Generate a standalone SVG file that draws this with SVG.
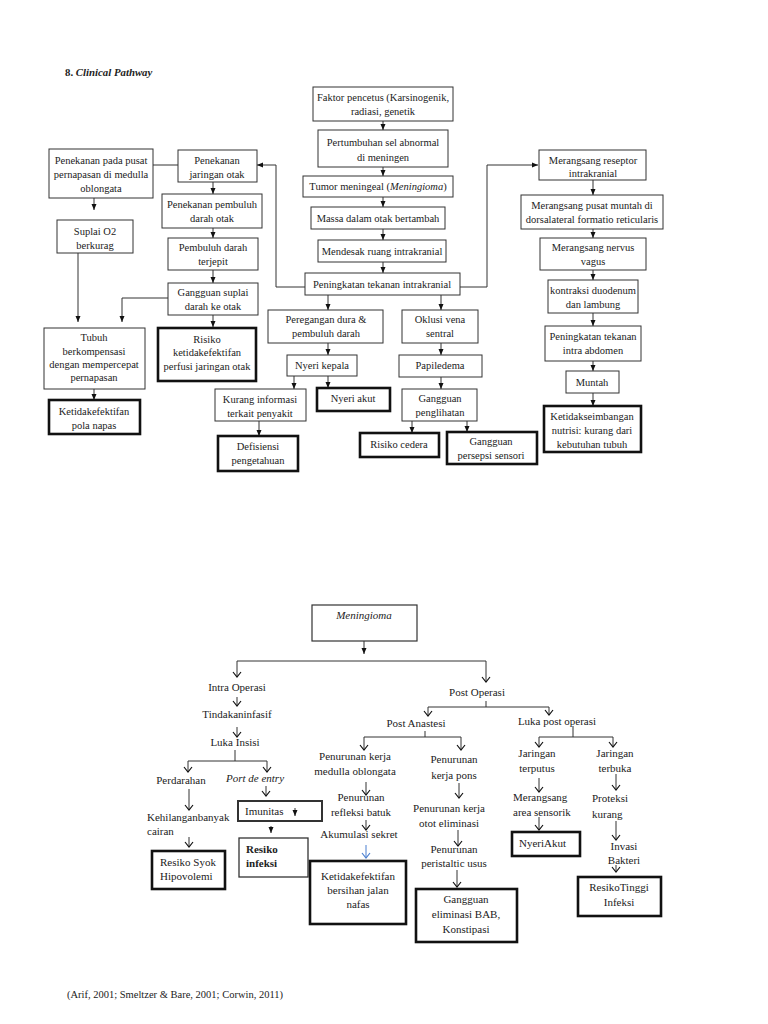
<svg xmlns="http://www.w3.org/2000/svg" width="768" height="1024" viewBox="0 0 768 1024">
<style>
text{font-family:"Liberation Serif","Times New Roman",serif;font-size:10.5px;fill:#222;text-anchor:middle}
.l{text-anchor:start}
.bot text{font-size:11px}
.b{fill:#fff;stroke:#333;stroke-width:1}
.t{fill:#fff;stroke:#111;stroke-width:2.6}
.c{fill:none;stroke:#333;stroke-width:1}
.f{marker-end:url(#fa)}
.o{marker-end:url(#oa)}
</style>
<defs>
<marker id="fa" markerUnits="userSpaceOnUse" markerWidth="6" markerHeight="6" viewBox="0 0 6 6" refX="6" refY="3" orient="auto"><path d="M0,0.5 L6,3 L0,5.5 z" fill="#111"/></marker>
<marker id="oa" markerUnits="userSpaceOnUse" markerWidth="10" markerHeight="10" viewBox="0 0 10 10" refX="9" refY="5" orient="auto"><path d="M4,1 L9,5 L4,9" fill="none" stroke="#111" stroke-width="1.2"/></marker>
<marker id="ob" markerUnits="userSpaceOnUse" markerWidth="10" markerHeight="10" viewBox="0 0 10 10" refX="9" refY="5" orient="auto"><path d="M4,1 L9,5 L4,9" fill="none" stroke="#4a7fd0" stroke-width="1.2"/></marker>
</defs>
<rect width="768" height="1024" fill="#fff"/>
<text x="65" y="76" class="l" style="font-weight:bold;font-size:10.8px">8. <tspan font-style="italic">Clinical Pathway</tspan></text>

<g id="connectors-top" class="c">
<path class="f" d="M383,121V130"/>
<path class="f" d="M383,167V176"/>
<path class="f" d="M383,197V207"/>
<path class="f" d="M383,229V240"/>
<path class="f" d="M383,262V273"/>
<path class="f" d="M305,287H276V165H257"/>
<path class="f" d="M460,287H487V165H538"/>
<path d="M153,165H178"/>
<path class="f" d="M94,198V210"/>
<path class="f" d="M78,253V322"/>
<path class="f" d="M213,182V194"/>
<path class="f" d="M213,228V238"/>
<path class="f" d="M213,270V283"/>
<path class="f" d="M168,298H122V322"/>
<path class="f" d="M213,315V327"/>
<path class="f" d="M94,389V400"/>
<path class="f" d="M328,295V310"/>
<path class="f" d="M441,295V310"/>
<path class="f" d="M328,343V355"/>
<path class="f" d="M441,343V355"/>
<path class="f" d="M294,376V389"/>
<path class="f" d="M328,376V388"/>
<path class="f" d="M441,377V389"/>
<path class="f" d="M259,421V436"/>
<path class="f" d="M412,421V433"/>
<path class="f" d="M467,421V432"/>
<path class="f" d="M593,180V195"/>
<path class="f" d="M593,229V238"/>
<path class="f" d="M593,270V280"/>
<path class="f" d="M593,313V326"/>
<path class="f" d="M593,361V371"/>
<path class="f" d="M593,393V406"/>
</g>

<g id="n-faktor"><rect class="b" x="313" y="87" width="140" height="34"/><text x="383" y="101">Faktor pencetus (Karsinogenik,</text><text x="383" y="115">radiasi, genetik</text></g>
<g id="n-pertumbuhan"><rect class="b" x="318" y="130" width="130" height="37"/><text x="383" y="146">Pertumbuhan sel abnormal</text><text x="383" y="161">di meningen</text></g>
<g id="n-tumor"><rect class="b" x="303" y="176" width="150" height="21"/><text x="378" y="190">Tumor meningeal (<tspan font-style="italic">Meningioma</tspan>)</text></g>
<g id="n-massa"><rect class="b" x="311" y="207" width="134" height="22"/><text x="378" y="222">Massa dalam otak bertambah</text></g>
<g id="n-mendesak"><rect class="b" x="318" y="240" width="128" height="22"/><text x="382" y="255">Mendesak ruang intrakranial</text></g>
<g id="n-peningkatan"><rect class="b" x="305" y="273" width="155" height="22"/><text x="382" y="288">Peningkatan tekanan intrakranial</text></g>

<g id="n-pusat"><rect class="b" x="49" y="149" width="104" height="49"/><text x="101" y="164">Penekanan pada pusat</text><text x="101" y="178">pernapasan di medulla</text><text x="101" y="192">oblongata</text></g>
<g id="n-suplai"><rect class="b" x="57" y="220" width="76" height="33"/><text x="95" y="235">Suplai O2</text><text x="95" y="249">berkurag</text></g>
<g id="n-jaringan"><rect class="b" x="178" y="150" width="79" height="32"/><text x="217" y="164">Penekanan</text><text x="217" y="178">jaringan otak</text></g>
<g id="n-pembuluh"><rect class="b" x="162" y="194" width="100" height="34"/><text x="212" y="208">Penekanan pembuluh</text><text x="212" y="222">darah otak</text></g>
<g id="n-terjepit"><rect class="b" x="168" y="238" width="90" height="32"/><text x="213" y="251">Pembuluh darah</text><text x="213" y="265">terjepit</text></g>
<g id="n-gangsuplai"><rect class="b" x="168" y="283" width="90" height="32"/><text x="213" y="296">Gangguan suplai</text><text x="213" y="310">darah ke otak</text></g>
<g id="n-tubuh"><rect class="b" x="44" y="328" width="101" height="61"/><text x="94" y="341">Tubuh</text><text x="94" y="355">berkompensasi</text><text x="94" y="368">dengan mempercepat</text><text x="94" y="381">pernapasan</text></g>
<g id="n-risiko"><rect class="t" x="158" y="328" width="98" height="53"/><text x="207" y="343">Risiko</text><text x="207" y="356">ketidakefektifan</text><text x="207" y="370">perfusi jaringan otak</text></g>
<g id="n-polanapas"><rect class="t" x="49" y="400" width="91" height="34"/><text x="94" y="415">Ketidakefektifan</text><text x="94" y="429">pola napas</text></g>
<g id="n-peregangan"><rect class="b" x="268" y="310" width="115" height="33"/><text x="326" y="323">Peregangan dura &amp;</text><text x="326" y="337">pembuluh darah</text></g>
<g id="n-oklusi"><rect class="b" x="402" y="310" width="76" height="33"/><text x="440" y="323">Oklusi vena</text><text x="440" y="337">sentral</text></g>
<g id="n-nyerikepala"><rect class="b" x="287" y="355" width="70" height="21"/><text x="322" y="369">Nyeri kepala</text></g>
<g id="n-papiledema"><rect class="b" x="399" y="355" width="83" height="22"/><text x="440" y="369">Papiledema</text></g>
<g id="n-kurang"><rect class="b" x="215" y="389" width="91" height="32"/><text x="260" y="403">Kurang informasi</text><text x="260" y="417">terkait penyakit</text></g>
<g id="n-nyeriakut"><rect class="t" x="317" y="388" width="73" height="23"/><text x="353" y="402">Nyeri akut</text></g>
<g id="n-penglihatan"><rect class="b" x="402" y="389" width="75" height="32"/><text x="440" y="402">Gangguan</text><text x="440" y="416">penglihatan</text></g>
<g id="n-defisiensi"><rect class="t" x="218" y="436" width="80" height="35"/><text x="258" y="450">Defisiensi</text><text x="258" y="464">pengetahuan</text></g>
<g id="n-cedera"><rect class="t" x="360" y="433" width="79" height="24"/><text x="399" y="448">Risiko cedera</text></g>
<g id="n-persepsi"><rect class="t" x="447" y="432" width="90" height="32"/><text x="491" y="445">Gangguan</text><text x="491" y="459">persepsi sensori</text></g>

<g id="n-reseptor"><rect class="b" x="539" y="150" width="107" height="30"/><text x="593" y="164">Merangsang reseptor</text><text x="593" y="177">intrakranial</text></g>
<g id="n-muntahpusat"><rect class="b" x="521" y="195" width="142" height="34"/><text x="592" y="209">Merangsang pusat muntah di</text><text x="592" y="223">dorsalateral formatio reticularis</text></g>
<g id="n-vagus"><rect class="b" x="540" y="238" width="106" height="32"/><text x="593" y="251">Merangsang nervus</text><text x="593" y="265">vagus</text></g>
<g id="n-kontraksi"><rect class="b" x="548" y="280" width="90" height="33"/><text x="593" y="294">kontraksi duodenum</text><text x="593" y="308">dan lambung</text></g>
<g id="n-abdomen"><rect class="b" x="545" y="326" width="96" height="35"/><text x="593" y="340">Peningkatan tekanan</text><text x="593" y="354">intra abdomen</text></g>
<g id="n-muntah"><rect class="b" x="566" y="371" width="53" height="22"/><text x="592" y="386">Muntah</text></g>
<g id="n-nutrisi"><rect class="t" x="544" y="406" width="97" height="46"/><text x="592" y="420">Ketidakseimbangan</text><text x="592" y="434">nutrisi: kurang dari</text><text x="592" y="448">kebutuhan tubuh</text></g>

<g class="bot">
<g id="connectors-bottom" class="c">
<path class="f" d="M364,641V654"/>
<path d="M237,661H486"/>
<path class="o" d="M237,661V677"/>
<path class="o" d="M486,661V682"/>
<path class="o" d="M237,697V706"/>
<path class="o" d="M237,727V737"/>
<path d="M235,750V761M188,761H267"/>
<path class="o" d="M188,761V772"/>
<path class="o" d="M267,761V772"/>
<path class="o" d="M189,789V810"/>
<path class="o" d="M266,786V796"/>
<path class="f" d="M271,826V833"/>
<path class="o" d="M189,837V847"/>
<path d="M486,701V707M428,707H549"/>
<path class="o" d="M428,707V716"/>
<path class="o" d="M549,707V715"/>
<path d="M425,731V737M364,737H461"/>
<path class="o" d="M364,737V750"/>
<path class="o" d="M461,737V750"/>
<path class="o" d="M366,782V795"/>
<path class="o" d="M366,820V830"/>
<path d="M366,845V858" stroke="#4a7fd0" marker-end="url(#ob)"/>
<path class="o" d="M459,783V798"/>
<path class="o" d="M458,830V846"/>
<path class="o" d="M457,870V887"/>
<path d="M573,726V737M539,737H613"/>
<path class="o" d="M539,737V747"/>
<path class="o" d="M613,737V747"/>
<path class="o" d="M539,778V792"/>
<path class="o" d="M539,817V830"/>
<path class="o" d="M616,774V790"/>
<path class="o" d="M616,821V840"/>
<path class="o" d="M616,865V872"/>
</g>
<g id="n-meningioma"><rect class="b" x="312" y="605" width="105" height="36" style="stroke-width:1.2"/><text x="364" y="619" font-style="italic">Meningioma</text></g>
<g id="n-intra"><text x="237" y="691">Intra Operasi</text></g>
<g id="n-tindakan"><text x="237" y="718">Tindakaninfasif</text></g>
<g id="n-insisi"><text x="235" y="746">Luka Insisi</text></g>
<g id="n-perdarahan"><text x="181" y="784">Perdarahan</text></g>
<g id="n-port"><text x="255" y="782" font-style="italic">Port de entry</text></g>
<g id="n-imunitas"><rect class="b" x="238" y="801" width="84" height="20" style="stroke-width:2"/><text x="245" y="815" class="l">Imunitas</text><path class="c f" d="M295,808V816"/></g>
<g id="n-resikoinfeksi"><rect class="b" x="239" y="838" width="69" height="39" style="stroke-width:1.3"/><text x="246" y="853" class="l" font-weight="bold">Resiko</text><text x="246" y="867" class="l" font-weight="bold">infeksi</text></g>
<g id="n-kehilangan"><text x="147" y="821" class="l">Kehilanganbanyak</text><text x="147" y="835" class="l">cairan</text></g>
<g id="n-syok"><rect class="t" x="152" y="851" width="73" height="38"/><text x="160" y="866" class="l">Resiko Syok</text><text x="160" y="880" class="l">Hipovolemi</text></g>
<g id="n-post"><text x="477" y="696">Post Operasi</text></g>
<g id="n-anastesi"><text x="416" y="727">Post Anastesi</text></g>
<g id="n-lukapost"><text x="557" y="725">Luka post operasi</text></g>
<g id="n-medulla"><text x="355" y="760">Penurunan kerja</text><text x="355" y="775">medulla oblongata</text></g>
<g id="n-refleksi"><text x="361" y="801">Penurunan</text><text x="361" y="816">refleksi batuk</text></g>
<g id="n-akumulasi"><text x="359" y="838">Akumulasi sekret</text></g>
<g id="n-bersihan"><rect class="t" x="310" y="861" width="96" height="63"/><text x="358" y="880">Ketidakefektifan</text><text x="358" y="894">bersihan jalan</text><text x="358" y="908">nafas</text></g>
<g id="n-pons"><text x="454" y="763">Penurunan</text><text x="454" y="779">kerja pons</text></g>
<g id="n-otot"><text x="449" y="812">Penurunan kerja</text><text x="449" y="827">otot eliminasi</text></g>
<g id="n-peristaltic"><text x="454" y="853">Penurunan</text><text x="454" y="867">peristaltic usus</text></g>
<g id="n-eliminasi"><rect class="t" x="416" y="889" width="101" height="53"/><text x="466" y="903">Gangguan</text><text x="466" y="918">eliminasi BAB,</text><text x="466" y="933">Konstipasi</text></g>
<g id="n-terputus"><text x="537" y="757">Jaringan</text><text x="537" y="772">terputus</text></g>
<g id="n-sensorik"><text x="513" y="801" class="l">Merangsang</text><text x="513" y="816" class="l">area sensorik</text></g>
<g id="n-nyeriakut2"><rect class="t" x="512" y="832" width="68" height="24"/><text x="519" y="847" class="l">NyeriAkut</text></g>
<g id="n-terbuka"><text x="615" y="757">Jaringan</text><text x="615" y="772">terbuka</text></g>
<g id="n-proteksi"><text x="592" y="802" class="l">Proteksi</text><text x="592" y="818" class="l">kurang</text></g>
<g id="n-invasi"><text x="624" y="850">Invasi</text><text x="624" y="864">Bakteri</text></g>
<g id="n-resikotinggi"><rect class="t" x="578" y="877" width="83" height="39"/><text x="619" y="891">ResikoTinggi</text><text x="619" y="906">Infeksi</text></g>
</g>
<text x="67" y="998" class="l">(Arif, 2001; Smeltzer &amp; Bare, 2001; Corwin, 2011)</text>
</svg>
